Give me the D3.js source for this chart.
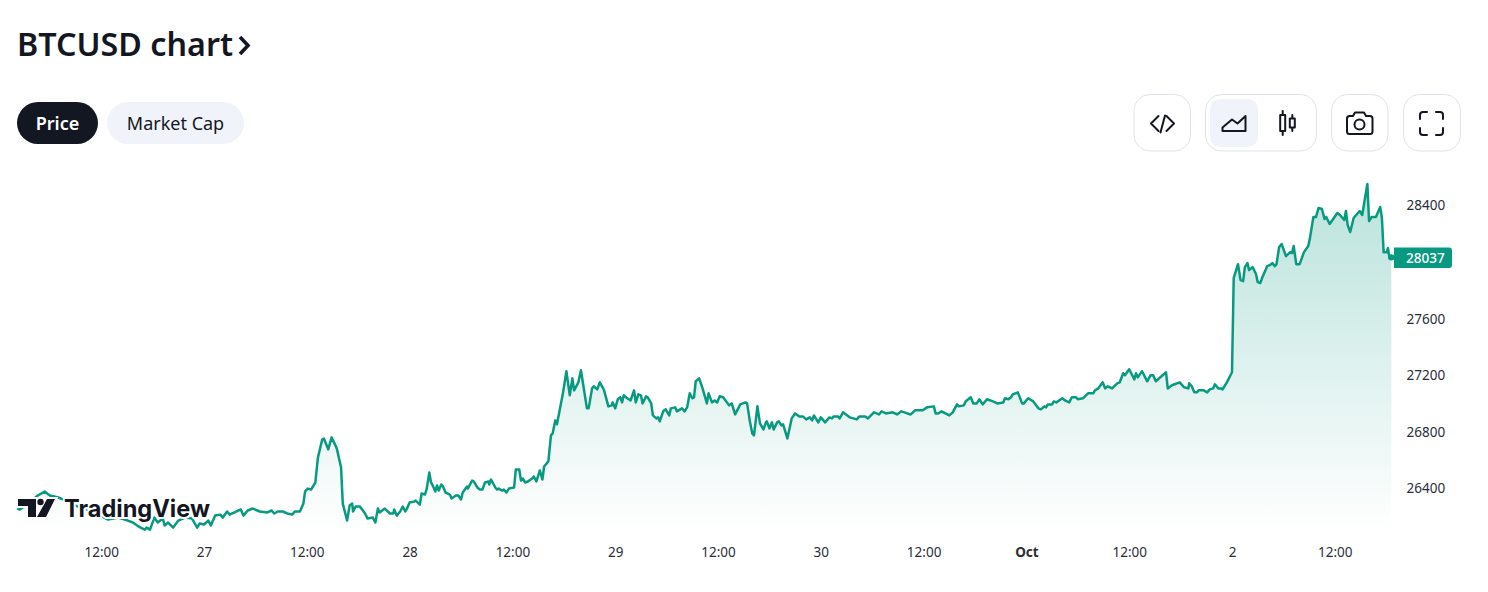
<!DOCTYPE html>
<html>
<head>
<meta charset="utf-8">
<script src="https://cdn.jsdelivr.net/npm/d3@7"></script>
<style>
  html, body { margin: 0; padding: 0; background: #fff; }
  svg { display: block; }
  text { font-family: "Noto Sans", sans-serif; fill: #131722; }
  .tick text { font-size: 13.5px; fill: #2a2e39; }
</style>
</head>
<body>
<div id="vis"></div>
<script>
// hours counted from 27 Sep 00:00
const hours = [
  -21.8,-21.5,-20.5,-19.4,-18.6,-18.0,-17.0,-16.1,-15.1,-13.9,-13.1,-12.1,-11.2,-10.0,-8.9,-8.3,-7.8,-7.4,-6.9,-6.7,-6.3,-5.8,-5.4,-4.8,-4.6,-4.2,-3.6,-3.0,-2.2,-1.4,-0.8,-0.5,0,0.5,0.8,1.3,
  1.9,2.2,2.7,3.0,4.0,4.3,4.6,5.1,5.7,6.5,7.4,7.9,8.2,8.6,9.2,9.7,10.3,10.6,11.2,11.6,11.8,12.1,12.5,13.0,13.3,13.8,14.0,14.5,14.9,15.5,16.0,16.2,16.7,17.0,17.3,17.4,17.7,18.2,18.8,19.1,19.7,20.0,20.3,20.5,21.1,
  21.7,22.1,22.2,22.5,22.9,23.2,23.5,23.7,24.0,24.5,24.7,25.2,25.4,25.8,26.0,26.3,26.5,26.7,27.0,27.2,27.4,27.7,27.9,28.2,28.7,28.9,29.4,29.7,30.0,30.2,30.7,30.8,31.3,31.5,31.9,32.2,32.5,32.8,33.2,33.3,33.5,34.0,34.2,34.4,34.8,35.0,35.3,35.6,36.2,36.4,36.8,37.0,37.2,37.5,37.8,38.3,38.5,38.8,39.2,39.5,39.7,40.2,40.5,40.7,41.0,41.2,41.9,42.3,
  42.7,43.0,43.2,43.7,44.0,44.7,44.9,45.3,45.5,45.9,46.2,46.6,46.7,47.2,47.6,47.7,48.0,48.3,48.6,48.8,49.0,49.4,49.8,50.2,50.4,50.7,51.0,51.2,51.6,51.8,52.2,52.4,52.8,53.0,53.2,53.6,53.9,54.3,54.5,55.0,55.2,55.8,56.1,56.4,56.7,57.0,57.2,57.4,57.8,58.2,58.7,58.9,59.3,59.6,59.9,60.2,60.6,61.3,61.6,62.0,62.6,63.2,63.4,63.7,64.0,64.2,64.6,64.9,65.3,65.6,65.7,66.0,66.3,66.5,66.9,67.1,67.4,67.6,68.1,68.6,69.0,69.5,
  69.9,70.3,70.7,71.0,71.2,71.7,72.0,72.5,73.0,73.3,73.5,74.0,74.2,74.6,75.4,76.2,76.5,77.2,77.5,78.2,78.8,79.1,79.6,80.4,80.9,81.4,82.1,82.5,83.0,83.9,84.4,85.2,85.4,85.7,86.1,87.0,87.4,87.9,88.1,88.7,88.9,89.5,89.8,90.2,90.5,90.9,91.4,92.1,92.6,93.3,93.5,93.9,94.2,94.4,95.0,95.5,95.7,96.2,96.8,97.4,97.7,98.1,98.3,98.5,99.0,99.2,99.5,100.2,100.5,101.0,101.3,101.8,102.0,102.6,103.2,103.8,104.0,104.4,104.9,105.2,105.5,106.0,106.6,106.9,107.3,107.5,108.0,108.6,108.8,109.0,109.5,110.1,110.5,110.8,111.1,112.3,112.5,113.0,113.3,113.9,114.4,114.9,115.0,115.3,115.6,115.9,116.1,116.7,117.1,117.4,117.8,118.0,118.4,118.7,118.9,119.4,120.0,
  120.2,120.7,121.0,121.3,121.5,121.8,122.0,122.4,122.8,123.0,123.3,123.6,124.1,124.4,124.7,125.0,125.2,125.5,125.8,126.3,126.8,127.0,127.2,127.5,127.9,128.4,128.9,129.1,129.5,129.8,130.1,130.5,130.8,131.0,131.4,132.3,132.6,133.1,133.3,133.5,133.8,134.2,134.9,135.2,135.8,136.0,136.3,136.8,137.3,137.5,137.7,138.1,138.2,138.4,138.6
];
const prices = [
  26262,26255,26297,26354,26382,26354,26340,26318,26283,26262,26241,26212,26184,26198,26177,26163,26142,26127,26113,26127,26113,26198,26163,26191,26142,26163,26127,26177,26198,26191,26127,26156,26149,26177,26142,26212,
  26219,26198,26241,26219,26248,26255,26212,26248,26262,26241,26234,26248,26227,26241,26241,26227,26219,26241,26241,26297,26382,26403,26396,26446,26623,26750,26757,26680,26765,26687,26552,26297,26177,26283,26297,26241,26276,26276,26227,26191,26198,26163,26262,26234,26262,
  26227,26227,26255,26212,26241,26276,26241,26262,26304,26311,26318,26290,26368,26361,26403,26517,26446,26425,26382,26425,26389,26432,26418,26375,26361,26333,26354,26354,26326,26375,26418,26403,26460,26453,26411,26396,26396,26446,26453,26432,26467,26411,26396,26403,26389,26396,26375,26403,26411,26538,26538,26460,26474,26446,26453,26474,26488,26453,26531,26467,26559,26595,26779,26793,26885,26857,27076,27232,
  27062,27182,27097,27154,27239,26970,26970,27111,27126,27104,27154,27111,27097,26984,26991,27012,26970,27034,27048,27012,27062,27041,27026,27097,27012,27069,27062,27005,27055,27048,27005,26920,26899,26906,26878,26949,26963,26920,26970,26977,26949,26970,26949,26977,27076,27041,27048,27161,27182,27111,27005,27076,27012,27026,27012,27055,27048,26991,27005,26927,26998,27012,27005,26885,26793,26779,26984,26864,26821,26871,26878,26828,26871,26821,26871,26878,26850,26857,26757,26899,26934,26913,
  26913,26892,26906,26885,26920,26871,26906,26871,26906,26899,26913,26913,26899,26942,26906,26892,26913,26913,26899,26942,26927,26949,26934,26942,26927,26949,26934,26927,26956,26956,26977,26984,26934,26934,26949,26920,26942,26998,26984,26991,27019,27048,27005,27005,27034,26998,27034,27019,27005,27012,27041,27034,27048,27069,27083,27005,27005,27041,27019,26970,26963,26984,26977,26998,26998,27019,27012,27041,27026,27012,27048,27048,27034,27041,27076,27076,27097,27111,27154,27111,27126,27111,27147,27154,27218,27204,27246,27175,27218,27189,27232,27161,27204,27204,27161,27225,27111,27133,27140,27154,27119,27111,27147,27126,27083,27083,27097,27097,27083,27104,27111,27140,27111,27111,27104,27154,27225,
  27890,27989,27876,27869,27968,27996,27947,27968,27919,27862,27855,27904,27975,27982,27996,27975,27989,28110,28131,28046,28074,28067,28117,27989,27989,28074,28117,28173,28322,28322,28386,28379,28308,28322,28273,28350,28336,28301,28365,28265,28216,28315,28365,28336,28556,28294,28322,28322,28393,28315,28074,28074,28103,28032,28037
];
const lastPrice = 28037;

const xTickHours = [-12, 0, 12, 24, 36, 48, 60, 72, 84, 96, 108, 120, 132];
const xTickLabels = ["12:00", "27", "12:00", "28", "12:00", "29", "12:00", "30", "12:00", "Oct", "12:00", "2", "12:00"];
const yTicks = [26400, 26800, 27200, 27600, 28400];

const tabs = ["Price", "Market Cap"];

const width = 1488, height = 592;
const green = "#089981";

const svg = d3.select("#vis").append("svg")
  .attr("width", width)
  .attr("height", height);

const x = d3.scaleLinear().domain([0, 120]).range([204, 1232]);
const y = d3.scaleLinear().domain([26400, 28400]).range([489, 206]);
const plotBottom = 531;

const points = hours.map((h, i) => [h, prices[i]]);

// AREA GRADIENT
const grad = svg.append("defs").append("linearGradient")
  .attr("id", "areaFill")
  .attr("gradientUnits", "userSpaceOnUse")
  .attr("x1", 0).attr("x2", 0)
  .attr("y1", y(d3.max(prices))).attr("y2", plotBottom);
grad.append("stop").attr("offset", 0).attr("stop-color", green).attr("stop-opacity", 0.28);
grad.append("stop").attr("offset", 1).attr("stop-color", green).attr("stop-opacity", 0);

svg.append("path")
  .datum(points)
  .attr("fill", "url(#areaFill)")
  .attr("d", d3.area().x(d => x(d[0])).y0(plotBottom).y1(d => y(d[1])));

svg.append("path")
  .datum(points)
  .attr("fill", "none")
  .attr("stroke", green)
  .attr("stroke-width", 2.5)
  .attr("stroke-linejoin", "round")
  .attr("d", d3.line().x(d => x(d[0])).y(d => y(d[1])));

// AXES
const xAxis = svg.append("g")
  .attr("transform", "translate(0,544)")
  .call(d3.axisBottom(x).tickValues(xTickHours).tickSize(0).tickFormat((d, i) => xTickLabels[i]));
xAxis.select(".domain").remove();
xAxis.selectAll("text")
  .attr("font-weight", d => d === 96 ? 700 : 400)
  .style("font-family", '"Noto Sans", sans-serif');

const yAxis = svg.append("g")
  .attr("transform", "translate(1406.5,-0.5)")
  .call(d3.axisRight(y).tickValues(yTicks).tickSize(0).tickPadding(0).tickFormat(d3.format("d")));
yAxis.select(".domain").remove();
yAxis.selectAll("text").style("font-family", '"Noto Sans", sans-serif');

// LAST PRICE
svg.append("circle")
  .attr("cx", x(hours[hours.length - 1]))
  .attr("cy", y(lastPrice))
  .attr("r", 3.2)
  .attr("fill", green);
svg.append("path")
  .attr("d", "M1394 247.5H1449a3 3 0 0 1 3 3V265a3 3 0 0 1-3 3H1394Z")
  .attr("fill", green);
svg.append("text")
  .attr("x", 1406).attr("y", y(lastPrice) + 1).attr("dy", "0.36em")
  .attr("font-size", 13.5).attr("font-weight", 500)
  .style("fill", "#fff")
  .text(lastPrice);

// TRADINGVIEW LOGO
const logo = svg.append("g");
logo.append("path")
  .attr("d", "M18 499H36V517H28V506H18Z M47 499H55L46 517H37Z")
  .attr("fill", "#131722").attr("stroke", "#fff").attr("stroke-width", 4).attr("paint-order", "stroke");
logo.append("circle")
  .attr("cx", 40.5).attr("cy", 502).attr("r", 3.2)
  .attr("fill", "#131722").attr("stroke", "#fff").attr("stroke-width", 2).attr("paint-order", "stroke");
logo.append("text")
  .attr("x", 64).attr("y", 517)
  .attr("font-size", 24).attr("font-weight", 700)
  .attr("textLength", 146).attr("lengthAdjust", "spacingAndGlyphs")
  .attr("stroke", "#fff").attr("stroke-width", 4).attr("paint-order", "stroke")
  .style("font-family", "Inter, sans-serif")
  .text("TradingView");

// HEADER
svg.append("text")
  .attr("x", 17).attr("y", 55.5)
  .attr("font-size", 32).attr("font-weight", 600)
  .attr("textLength", 216).attr("lengthAdjust", "spacingAndGlyphs")
  .text("BTCUSD chart");
svg.append("path")
  .attr("d", "M240 37L248 45.5L240 54")
  .attr("fill", "none").attr("stroke", "#131722").attr("stroke-width", 3.6);

const tabBoxes = [[17, 81, "#131722", "#fff"], [107, 137, "#f0f3fa", "#131722"]];
tabs.forEach((label, i) => {
  const [bx, bw, bg, fg] = tabBoxes[i];
  svg.append("rect")
    .attr("x", bx).attr("y", 102).attr("width", bw).attr("height", 42)
    .attr("rx", 21).attr("fill", bg);
  svg.append("text")
    .attr("x", bx + bw / 2).attr("y", 130)
    .attr("text-anchor", "middle")
    .attr("font-size", 18).attr("font-weight", i === 0 ? 600 : 400)
    .style("fill", fg)
    .text(label);
});

// TOOLBAR BUTTONS
const btnStroke = "#e0e3eb", iconColor = "#131722";
[[1134, 56.5], [1205.5, 111], [1331.5, 56.5], [1403.5, 57]].forEach(b => {
  svg.append("rect")
    .attr("x", b[0]).attr("y", 94.5).attr("width", b[1]).attr("height", 56.5)
    .attr("rx", 16).attr("fill", "#fff").attr("stroke", btnStroke);
});
svg.append("rect")
  .attr("x", 1210).attr("y", 99).attr("width", 48).attr("height", 48)
  .attr("rx", 10).attr("fill", "#f0f3fa");

const icons = [
  // code
  "M1158.5 116L1151 123.5L1158.5 131 M1165 115.5L1160.5 132.5 M1166.5 116L1174 123.5L1166.5 131",
  // area
  "M1222.5 131V127.5L1232 119.5L1237.5 123.5L1245.5 116V131Z",
  // candles
  "M1282.7 111V115 M1282.7 131V135 M1280.2 115H1285.2V131H1280.2Z M1292.3 115V118.5 M1292.3 127.5V131 M1289.8 118.5H1294.8V127.5H1289.8Z",
  // camera
  "M1349.5 116H1353L1355 112.5H1364L1366 116H1370a2.5 2.5 0 0 1 2.5 2.5V131.5a2.5 2.5 0 0 1-2.5 2.5H1349.5a2.5 2.5 0 0 1-2.5-2.5V118.5a2.5 2.5 0 0 1 2.5-2.5Z M1364.5 124.5a5 5 0 1 1-10 0a5 5 0 1 1 10 0Z",
  // fullscreen
  "M1420 119V115a3 3 0 0 1 3-3H1427 M1436 112H1440a3 3 0 0 1 3 3V119 M1443 128V132a3 3 0 0 1-3 3H1436 M1427 135H1423a3 3 0 0 1-3-3V128"
];
icons.forEach(d => {
  svg.append("path")
    .attr("d", d)
    .attr("fill", "none").attr("stroke", iconColor).attr("stroke-width", 2)
    .attr("stroke-linejoin", "round").attr("stroke-linecap", "round");
});
</script>
</body>
</html>
